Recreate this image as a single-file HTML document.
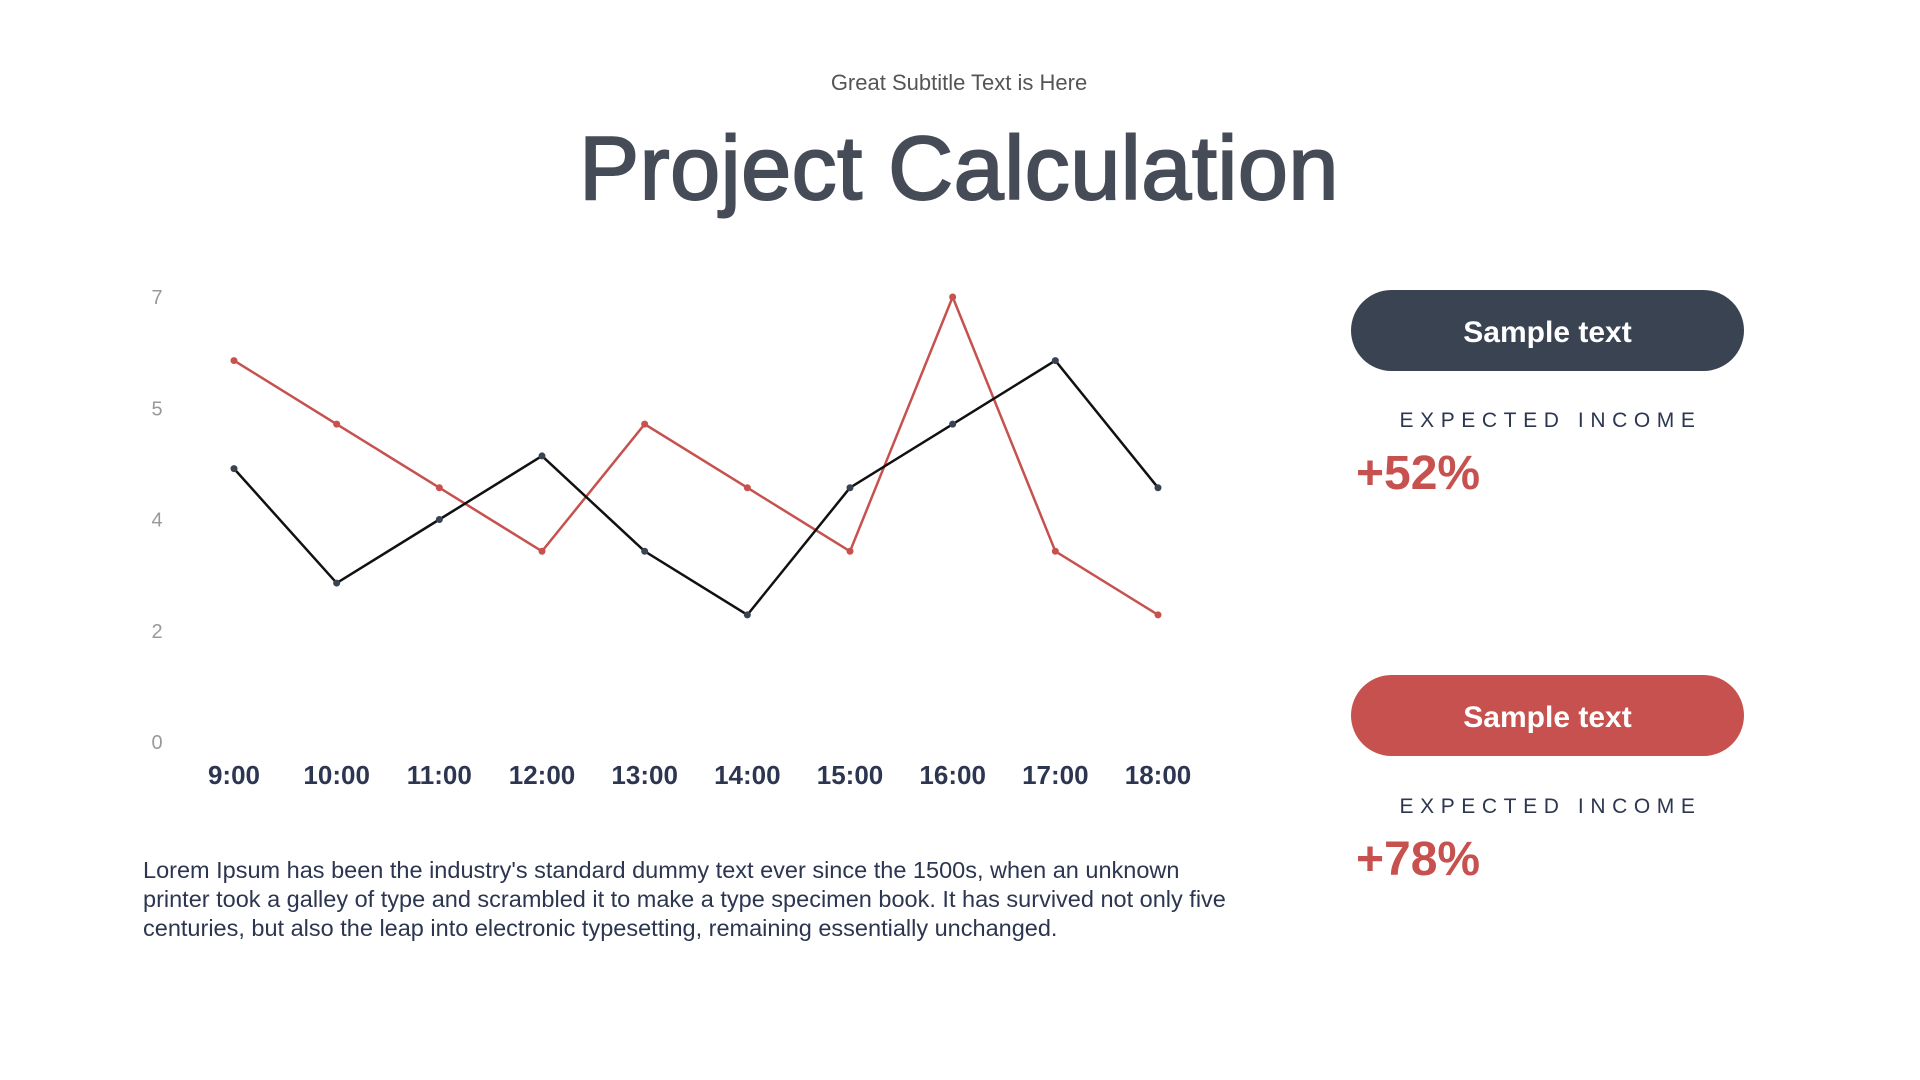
<!DOCTYPE html>
<html><head><meta charset="utf-8"><style>
body{margin:0;width:1920px;height:1080px;background:#fff;position:relative;overflow:hidden;font-family:"Liberation Sans",sans-serif}
.abs{position:absolute}
.btn{position:absolute;left:1351px;width:393px;height:81px;border-radius:41px;color:#fff;font-weight:bold;font-size:30px;text-align:center;line-height:85px}
.exp{position:absolute;left:1346px;width:409px;text-align:center;font-size:21px;letter-spacing:6.6px;color:#2c3650}
.pct{position:absolute;left:1356px;font-size:48px;font-weight:bold;color:#c6514e}
</style></head><body>
<div class="abs" style="left:0;width:1918px;top:70px;text-align:center;font-size:22px;color:#555">Great Subtitle Text is Here</div>
<div class="abs" style="left:0;width:1918px;top:118px;text-align:center;font-size:90px;-webkit-text-stroke:2px #464c57;letter-spacing:0.5px;color:#464c57">Project Calculation</div>
<svg class="abs" style="left:0;top:0" width="1300" height="820" id="chart"></svg>
<div class="abs" style="left:143px;top:856px;white-space:nowrap;font-size:23.5px;line-height:29px;color:#2c3650">Lorem Ipsum has been the industry's standard dummy text ever since the 1500s, when an unknown<br>printer took a galley of type and scrambled it to make a type specimen book. It has survived not only five<br>centuries, but also the leap into electronic typesetting, remaining essentially unchanged.</div>
<div class="btn" style="top:290px;background:#3a4352">Sample text</div>
<div class="exp" style="top:409px">EXPECTED INCOME</div>
<div class="pct" style="top:446px">+52%</div>
<div class="btn" style="top:675px;background:#c6514e">Sample text</div>
<div class="exp" style="top:795px">EXPECTED INCOME</div>
<div class="pct" style="top:832px">+78%</div>
<script>
const categories=["9:00","10:00","11:00","12:00","13:00","14:00","15:00","16:00","17:00","18:00"];
const redSeries=[6,5,4,3,5,4,3,7,3,2];
const blackSeries=[4.3,2.5,3.5,4.5,3,2,4,5,6,4];
const yTicks=[0,1.75,3.5,5.25,7];
const yTickLabels=["0","2","4","5","7"];
const svg=document.getElementById('chart');
const NS='http://www.w3.org/2000/svg';
const x=i=>234+i*(1158-234)/(categories.length-1);
const y=v=>742-v*(742-297)/7;
function mk(tag,attrs){const e=document.createElementNS(NS,tag);for(const k in attrs)e.setAttribute(k,attrs[k]);svg.appendChild(e);return e;}
yTicks.forEach((t,i)=>{const e=mk('text',{x:157,y:y(t)+7,'text-anchor':'middle','font-size':20,fill:'#999','font-family':'Liberation Sans, sans-serif'});e.textContent=yTickLabels[i];

});
categories.forEach((c,i)=>{const e=mk('text',{x:x(i),y:784,'text-anchor':'middle','font-size':26,'font-weight':'bold',fill:'#2c3650','font-family':'Liberation Sans, sans-serif'});e.textContent=c;

});
function series(vals,color,dot,name){
const p=mk('polyline',{points:vals.map((v,i)=>x(i)+','+y(v)).join(' '),fill:'none',stroke:color,'stroke-width':2.5});


vals.forEach((v,i)=>{const c=mk('circle',{cx:x(i),cy:y(v),r:3.5,fill:dot});

});}
series(redSeries,'#c6514e','#c6514e','red-series');
series(blackSeries,'#111','#3a4352','black-series');
</script>
</body></html>
